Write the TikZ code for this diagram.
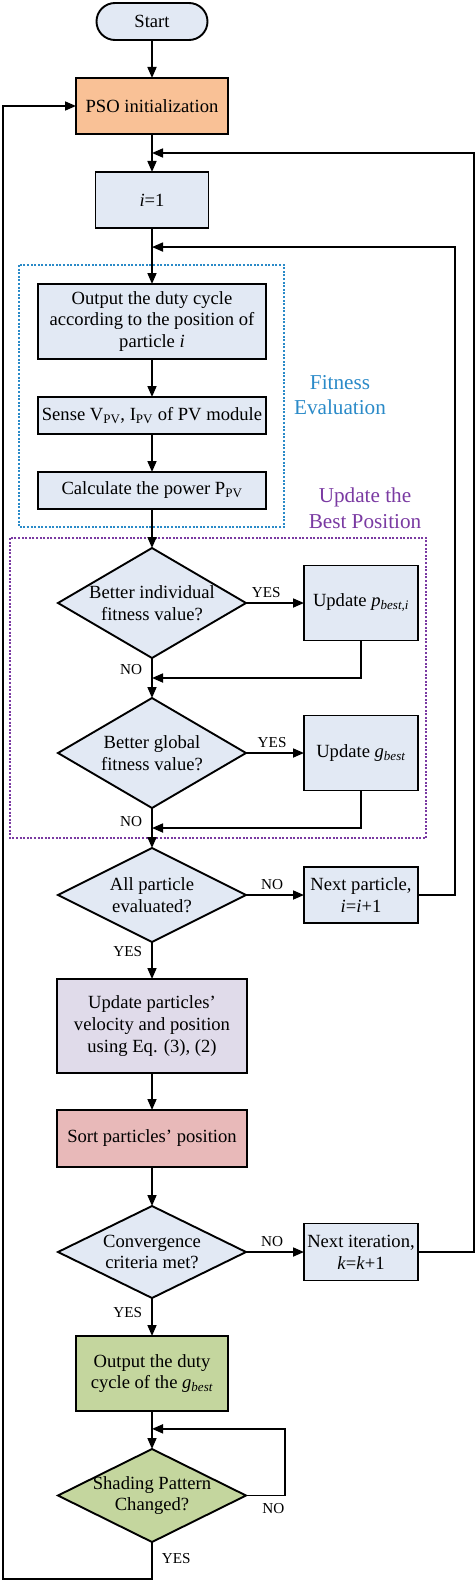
\documentclass[tikz,border=0pt]{standalone}
\usepackage{fontspec}
\setmainfont{Liberation Serif}
\usetikzlibrary{shapes, positioning, calc, arrows.meta}
\definecolor{boxblue}{HTML}{E2E9F4}
\definecolor{initorange}{HTML}{F9C196}
\definecolor{updlilac}{HTML}{E0DBEA}
\definecolor{sortpink}{HTML}{E8B9B9}
\definecolor{outgreen}{HTML}{C4D69E}
\definecolor{fitblue}{HTML}{2A8AC8}
\definecolor{bestpurple}{HTML}{7A3AA2}
\tikzset{
stepbox/.style={
	  draw, line width=1.9pt, fill=boxblue, align=center,
	    outer sep=0pt, inner sep=1pt, font=\fontsize{18.6}{21.7}\selectfont},
decision/.style={stepbox, diamond, aspect=1.7, inner sep=-2pt,
    minimum width=188pt},
terminal/.style={stepbox, rounded rectangle},
flow/.style={line width=1.7pt, -{Triangle[length=11pt, width=9pt]}},
yesno/.style={font=\fontsize{15.2}{17}\selectfont, inner sep=1pt},
groupnote/.style={font=\fontsize{21.2}{25.5}\selectfont, align=center},
groupbox/.style={line width=1.7pt, dash pattern=on 2pt off 1.6pt}
}
\newcommand{\pv}{\textsubscript{PV}}
\newcommand{\best}[1]{\textit{#1}\textsubscript{\textit{best}}}

\begin{document}
\begin{tikzpicture}[x=1pt, y=-1pt]
	\useasboundingbox (0,0) rectangle (474,1581);
	\draw[groupbox, fitblue] (19,265) rectangle (284,527);
	\draw[groupbox, bestpurple] (10,538) rectangle (426,838);
	\node[groupnote, fitblue] (fitnote) at (340,395) {Fitness\\Evaluation};
	\node[groupnote, bestpurple] (bestnote) at (365,508) {Update the\\Best Position};

	\node[terminal, minimum width=113pt, minimum height=37pt] (start) at (152,21.5) {Start};
	\node[stepbox, fill=initorange, minimum width=152pt, minimum height=56pt,
		below=38pt of start] (pso) {PSO initialization};
	\node[stepbox, minimum width=113pt, minimum height=56pt, below=38pt of pso] (ione) {\textit{i}=1};
	\node[stepbox, minimum width=228pt, minimum height=75pt, below=56pt of ione] (out)
		{Output the duty cycle\\according to the position of\\particle \textit{i}};
	\node[stepbox, minimum width=228pt, minimum height=37pt, below=38pt of out] (sense)
		{Sense V\pv, I\pv{} of PV module};
	\node[stepbox, minimum width=228pt, minimum height=37pt, below=38pt of sense] (calc)
		{Calculate the power P\pv};
	\node[decision, minimum height=110pt, below=39pt of calc] (d1) {Better individual\\fitness value?};
	\node[stepbox, minimum width=114pt, minimum height=75pt, right=58pt of d1] (pbest)
		{Update \textit{p}\textsubscript{\textit{best,i}}};
	\node[decision, minimum height=110pt, below=40pt of d1] (d2) {Better global\\fitness value?};
	\node[stepbox, minimum width=114pt, minimum height=75pt, right=58pt of d2] (gbest)
		{Update \best{g}};
	\node[decision, minimum height=94pt, below=40pt of d2] (d3) {All particle\\evaluated?};
	\node[stepbox, minimum width=114pt, minimum height=56pt, right=58pt of d3] (nextp)
		{Next particle,\\\textit{i}=\textit{i}+1};
	\node[stepbox, fill=updlilac, minimum width=190pt, minimum height=94pt, below=37pt of d3] (upd)
		{Update particles'\\velocity and position\\using Eq. (3), (2)};
	\node[stepbox, fill=sortpink, minimum width=190pt, minimum height=57pt, below=37pt of upd] (sort)
		{Sort particles' position};
	\node[decision, minimum height=92pt, aspect=2, below=39pt of sort] (d4) {Convergence\\criteria met?};
	\node[stepbox, minimum width=114pt, minimum height=57pt, right=58pt of d4] (nextit)
		{Next iteration,\\\textit{k}=\textit{k}+1};
	\node[stepbox, fill=outgreen, minimum width=152pt, minimum height=75pt, below=38pt of d4] (outg)
		{Output the duty\\cycle of the \best{g}};
	\node[decision, fill=outgreen, minimum height=93pt, aspect=2, below=38pt of outg] (d5)
		{Shading Pattern\\Changed?};

	\coordinate (j1) at ($(pso.south)!.5!(ione.north)$);
	\coordinate (j2) at ($(ione.south)!.34!(out.north)$);
	\coordinate (j3) at ($(d1.south)!.5!(d2.north)$);
	\coordinate (j4) at ($(d2.south)!.5!(d3.north)$);
	\coordinate (j5) at ($(outg.south)!.47!(d5.north)$);

	\draw[flow] (start) -- (pso);
	\draw[flow] (pso) -- (ione);
	\draw[flow] (ione) -- (out);
	\draw[flow] (out) -- (sense);
	\draw[flow] (sense) -- (calc);
	\draw[flow] (calc) -- (d1);
	\draw[flow] (d1) -- node[yesno, above=4pt, pos=.35] {YES} (pbest);
	\draw[flow] (d1) -- node[yesno, left=8pt, pos=.3] {NO} (d2);
	\draw[flow] (pbest.south) |- (j3);
	\draw[flow] (d2) -- node[yesno, above=4pt, pos=.45] {YES} (gbest);
	\draw[flow] (d2) -- node[yesno, left=8pt, pos=.33] {NO} (d3);
	\draw[flow] (gbest.south) |- (j4);
	\draw[flow] (d3) -- node[yesno, above=4pt, pos=.45] {NO} (nextp);
	\draw[flow] (nextp.east) -- ++(37,0) |- (j2);
	\draw[flow] (d3) -- node[yesno, left=8pt, pos=.27] {YES} (upd);
	\draw[flow] (upd) -- (sort);
	\draw[flow] (sort) -- (d4);
	\draw[flow] (d4) -- node[yesno, above=4pt, pos=.45] {NO} (nextit);
	\draw[flow] (nextit.east) -- ++(56,0) |- (j1);
	\draw[flow] (d4) -- node[yesno, left=8pt, pos=.37] {YES} (outg);
	\draw[flow] (outg) -- (d5);
	\draw[flow] (d5.east) -- node[yesno, below=6pt, pos=.7] {NO} ++(39,0) |- (j5);
	\draw[flow] (d5.south) -- node[yesno, right=8pt, pos=.45] {YES} ++(0,37)
		-| ([xshift=-73pt]pso.west) -- (pso.west);

\end{tikzpicture}
\end{document}
